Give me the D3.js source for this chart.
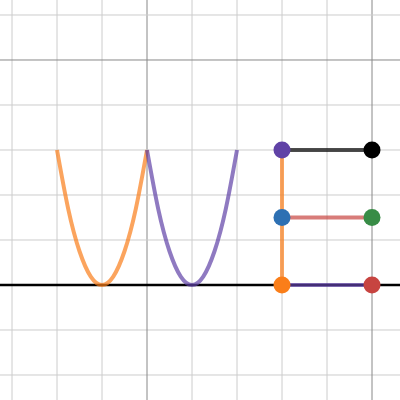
<!DOCTYPE html>
<html><head><meta charset="utf-8">
<script src="https://cdn.jsdelivr.net/npm/d3@7"></script>
<style>body{margin:0;background:#fff}svg{display:block}</style></head>
<body><svg id="c" width="400" height="400"></svg>
<script>
const curveX = [-2,-1.75,-1.5,-1.25,-1,-0.75,-0.5,-0.25,0];
const orangeY = [3,1.6875,0.75,0.1875,0,0.1875,0.75,1.6875,3];
const purpleX = [0,0.25,0.5,0.75,1,1.25,1.5,1.75,2];
const purpleY = [3,1.6875,0.75,0.1875,0,0.1875,0.75,1.6875,3];
const segments = [
  {x1:3,y1:3,x2:5,y2:3,color:"#000000"},
  {x1:3,y1:1.5,x2:5,y2:1.5,color:"#c74440"},
  {x1:3,y1:0,x2:5,y2:0,color:"#6042a6"},
  {x1:3,y1:0,x2:3,y2:3,color:"#fa7e19"}
];
const points = [
  {x:3,y:3,color:"#6042a6"},{x:5,y:3,color:"#000000"},
  {x:3,y:1.5,color:"#2d70b3"},{x:5,y:1.5,color:"#388c46"},
  {x:3,y:0,color:"#fa7e19"},{x:5,y:0,color:"#c74440"}
];
const svg = d3.select("#c");
const x = d3.scaleLinear().domain([-3.2667,5.6222]).range([0,400]);
const y = d3.scaleLinear().domain([6.3333,-2.5556]).range([0,400]);
const g = svg.append("g");
for (let i=-4;i<=6;i++){
  g.append("line").attr("x1",x(i)).attr("x2",x(i)).attr("y1",0).attr("y2",400)
   .attr("stroke", i%5===0?"#888":"#ccc").attr("stroke-width",1);
  g.append("line").attr("y1",y(i)).attr("y2",y(i)).attr("x1",0).attr("x2",400)
   .attr("stroke", i%5===0?"#888":"#ccc").attr("stroke-width",1);
}
g.append("line").attr("x1",0).attr("x2",400).attr("y1",y(0)).attr("y2",y(0)).attr("stroke","#000").attr("stroke-width",2.5);
const line = d3.line().x(d=>x(d[0])).y(d=>y(d[1])).curve(d3.curveNatural);
svg.append("path").attr("d",line(curveX.map((v,i)=>[v,orangeY[i]]))).attr("fill","none")
  .attr("stroke","#fa7e19").attr("stroke-opacity",0.7).attr("stroke-width",4);
svg.append("path").attr("d",line(purpleX.map((v,i)=>[v,purpleY[i]]))).attr("fill","none")
  .attr("stroke","#6042a6").attr("stroke-opacity",0.7).attr("stroke-width",4);
svg.selectAll(".seg").data(segments).enter().append("line")
  .attr("x1",d=>x(d.x1)).attr("y1",d=>y(d.y1)).attr("x2",d=>x(d.x2)).attr("y2",d=>y(d.y2))
  .attr("stroke",d=>d.color).attr("stroke-opacity",0.7).attr("stroke-width",4);
svg.selectAll(".pt").data(points).enter().append("circle")
  .attr("cx",d=>x(d.x)).attr("cy",d=>y(d.y)).attr("r",8.5).attr("fill",d=>d.color);
</script></body></html>
